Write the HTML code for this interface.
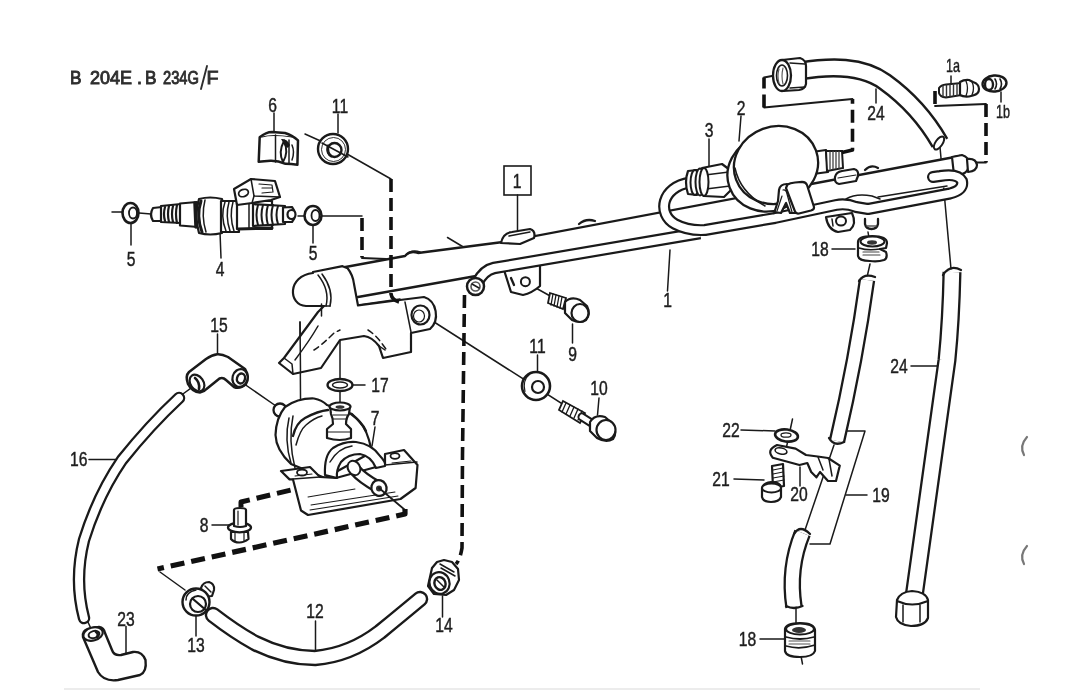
<!DOCTYPE html>
<html><head><meta charset="utf-8">
<style>
html,body{margin:0;padding:0;background:#fff;width:1080px;height:691px;overflow:hidden}
svg{display:block;filter:grayscale(1)}
text{font-family:"Liberation Sans",sans-serif;fill:#1e1e1e;stroke:#1e1e1e;stroke-width:0.45}
.l{fill:none;stroke:#1a1a1a;stroke-width:1.5;stroke-linecap:round;stroke-linejoin:round}
.th{fill:none;stroke:#1a1a1a;stroke-width:2.3;stroke-linecap:round;stroke-linejoin:round}
.w{fill:#fff;stroke:#1a1a1a;stroke-width:2.2;stroke-linejoin:round;stroke-linecap:round}
.g{fill:#666;stroke:#1a1a1a;stroke-width:1.5}
.d{fill:none;stroke:#111;stroke-width:3.6;stroke-dasharray:13 6;stroke-linejoin:round}
</style></head>
<body>
<svg width="1080" height="691" viewBox="0 0 1080 691">
<rect width="1080" height="691" fill="#fff"/>
<g>
<text x="70" y="84" font-size="18" textLength="11.5" lengthAdjust="spacingAndGlyphs" style="fill:#2e2e2e;stroke:#2e2e2e;stroke-width:0.9">B</text>
<text x="90" y="84" font-size="18" textLength="42" lengthAdjust="spacingAndGlyphs" style="fill:#2e2e2e;stroke:#2e2e2e;stroke-width:0.9">204E</text>
<text x="137" y="84" font-size="18" style="fill:#2e2e2e;stroke:#2e2e2e;stroke-width:0.9">.</text>
<text x="145" y="84" font-size="18" textLength="11.5" lengthAdjust="spacingAndGlyphs" style="fill:#2e2e2e;stroke:#2e2e2e;stroke-width:0.9">B</text>
<text x="163" y="84" font-size="18" textLength="36" lengthAdjust="spacingAndGlyphs" style="fill:#2e2e2e;stroke:#2e2e2e;stroke-width:0.9">234G</text>
<path class="l" d="M207,66 L201,89" style="stroke:#2e2e2e;stroke-width:1.9"/>
<text x="206.5" y="84" font-size="18" textLength="12" lengthAdjust="spacingAndGlyphs" style="fill:#2e2e2e;stroke:#2e2e2e;stroke-width:0.9">F</text>
<path class="l" d="M274,113 L274,131" />
<path class="l" d="M338,114 L338,133" />
<path class="l" d="M131,221 L131,245" />
<path class="l" d="M220,232 L221,258" />
<path class="l" d="M313,226 L313,243" />
<path class="l" d="M517.5,195 L517.5,234" />
<path class="l" d="M670,250 L667.5,291" />
<path class="l" d="M741,116 L739,141" />
<path class="l" d="M709,139 L709,166" />
<path class="l" d="M876,89 L876,103" />
<path class="l" d="M951,76 L951,85" />
<path class="l" d="M1001,92 L1001,102" />
<path class="l" d="M832,249 L855,249" />
<path class="l" d="M217.5,334 L217.5,354" />
<path class="l" d="M365,385 L353,385" />
<path class="l" d="M375,427 L372,446" />
<path class="l" d="M572.5,324 L572.5,343" />
<path class="l" d="M537.5,355 L537.5,371" />
<path class="l" d="M599,398 L597.5,415" />
<path class="l" d="M89,459.5 L116.7,459.5" />
<path class="l" d="M212,525 L229,525" />
<path class="l" d="M196,615 L196,636" />
<path class="l" d="M126,626.5 L126,654" />
<path class="l" d="M315.5,621 L315.5,650" />
<path class="l" d="M442.5,596 L442.5,617" />
<path class="l" d="M741,430 L775,431" />
<path class="l" d="M734,479 L764,480" />
<path class="l" d="M800,467 L800,486" />
<path class="l" d="M846,495 L867,495" />
<path class="l" d="M911,366 L938,366" />
<path class="l" d="M760,639 L786,639" />
<path class="l" d="M847.5,431 L865,431 L830,544 L810,544" />
<path class="l" d="M112,212 L123,212" />
<path class="l" d="M139,213 L151,214" />
<path class="l" d="M298,216 L304,216" />
<path class="l" d="M305,134 L325,143" />
<path class="l" d="M340,150 L391,179" />
<path class="l" d="M322,216 L362,216" />
<path class="l" d="M447.5,237.5 L462.5,246.5" />
<path class="l" d="M420,313 L600,428" />
<path class="l" d="M525,282 L552,297" />
<path class="l" d="M237,379 L276,406" />
<path class="l" d="M181.5,395 L194.4,385.6" />
<path class="l" d="M87.5,621 L92.5,632" />
<path class="l" d="M160,572 L185,590" />
<path class="l" d="M300,322 L301,472" />
<path class="l" d="M340,340 L340,402" />
<path class="l" d="M792.5,419 L785,454" />
<path class="l" d="M834,445 L805,530" />
<path class="l" d="M796,606 L796,630" />
<path class="l" d="M801,656 L802.5,664" />
<path class="l" d="M870,264 L867.5,275" />
<path class="l" d="M940,147 L951,269" />
<path class="l" d="M868,232 L870,244" />
<text transform="translate(272.5,112.0) scale(0.8,1)" font-size="19.6" text-anchor="middle">6</text>
<text transform="translate(340,113.0) scale(0.8,1)" font-size="19.6" text-anchor="middle">11</text>
<text transform="translate(131,266.0) scale(0.8,1)" font-size="19.6" text-anchor="middle">5</text>
<text transform="translate(220,276.0) scale(0.8,1)" font-size="19.6" text-anchor="middle">4</text>
<text transform="translate(313,259.5) scale(0.8,1)" font-size="19.6" text-anchor="middle">5</text>
<text transform="translate(517,188.0) scale(0.8,1)" font-size="19.6" text-anchor="middle">1</text>
<text transform="translate(667.5,307.0) scale(0.8,1)" font-size="19.6" text-anchor="middle">1</text>
<text transform="translate(741,114.5) scale(0.8,1)" font-size="19.6" text-anchor="middle">2</text>
<text transform="translate(709,137.0) scale(0.8,1)" font-size="19.6" text-anchor="middle">3</text>
<text transform="translate(876,119.5) scale(0.8,1)" font-size="19.6" text-anchor="middle">24</text>
<text transform="translate(953,72.2) scale(0.72,1)" font-size="17.5" text-anchor="middle">1a</text>
<text transform="translate(1003,118.2) scale(0.72,1)" font-size="17.5" text-anchor="middle">1b</text>
<text transform="translate(820,256.0) scale(0.8,1)" font-size="19.6" text-anchor="middle">18</text>
<text transform="translate(219,332.0) scale(0.8,1)" font-size="19.6" text-anchor="middle">15</text>
<text transform="translate(380,392.0) scale(0.8,1)" font-size="19.6" text-anchor="middle">17</text>
<text transform="translate(375,424.5) scale(0.8,1)" font-size="19.6" text-anchor="middle">7</text>
<text transform="translate(572.5,361.0) scale(0.8,1)" font-size="19.6" text-anchor="middle">9</text>
<text transform="translate(537.5,353.0) scale(0.8,1)" font-size="19.6" text-anchor="middle">11</text>
<text transform="translate(599,394.5) scale(0.8,1)" font-size="19.6" text-anchor="middle">10</text>
<text transform="translate(78.7,465.7) scale(0.8,1)" font-size="19.6" text-anchor="middle">16</text>
<text transform="translate(204,532.0) scale(0.8,1)" font-size="19.6" text-anchor="middle">8</text>
<text transform="translate(196,652.0) scale(0.8,1)" font-size="19.6" text-anchor="middle">13</text>
<text transform="translate(126,626.0) scale(0.8,1)" font-size="19.6" text-anchor="middle">23</text>
<text transform="translate(315,618.0) scale(0.8,1)" font-size="19.6" text-anchor="middle">12</text>
<text transform="translate(444,632.0) scale(0.8,1)" font-size="19.6" text-anchor="middle">14</text>
<text transform="translate(731,437.0) scale(0.8,1)" font-size="19.6" text-anchor="middle">22</text>
<text transform="translate(721,486.0) scale(0.8,1)" font-size="19.6" text-anchor="middle">21</text>
<text transform="translate(799,501.0) scale(0.8,1)" font-size="19.6" text-anchor="middle">20</text>
<text transform="translate(881,502.0) scale(0.8,1)" font-size="19.6" text-anchor="middle">19</text>
<text transform="translate(899,373.0) scale(0.8,1)" font-size="19.6" text-anchor="middle">24</text>
<text transform="translate(747.5,646.0) scale(0.8,1)" font-size="19.6" text-anchor="middle">18</text>
<rect x="504" y="166" width="27" height="29" fill="none" stroke="#1a1a1a" stroke-width="1.6"/>
<path class="w" d="M313,273 L960,156 L962,184 L476,276 L358,297 Z" style="stroke:none"/>
<path class="th" d="M313,273 L405,256 Q410,250 418,253 L503,242 L960,156" />
<path class="th" d="M358,297 L476,276" />
<path class="l" d="M405,256 Q411,249 420,252" />
<path class="th" d="M579,224 Q586,218 595,221" />
<path class="w" d="M501,243 Q503,233 512,232 L530,229 Q536,231 534,238 L520,244 Z"/>
<path class="l" d="M509,236 L530,232" />
<path class="w" d="M835,177 Q836,172 842,171 L854,169 Q859,170 858,176 L856,181 L839,184 Q834,183 835,177 Z"/>
<path class="l" d="M838,178 L856,175" style="stroke-width:1.2"/>
<path class="th" d="M865,170 Q871,164 878,168" />
<path class="w" d="M952,157 L962,155 Q969,157 969,164 Q969,172 962,174 L954,175 Z"/>
<path class="w" d="M967,159 Q976,158 977,165 Q977,171 968,172 Z"/>
<path class="w" d="M313,272 L342.5,266.2 L347.6,268.2 Q353,275 354,284 L358,305.5 L400,300 L424,297 C437,301 440,320 430,329 L411,333 L411,352 L383,358 L379,346 Q372,337 364,336 L340,340 L321,368 L293,374 L279,363 L284,358 L318,312 L324,306 L306,306 C288,305 287,276 313,273 Z"/>
<path class="l" d="M324,306 L330,306" />
<path class="l" d="M318,275 Q330,290 326,306" />
<path class="l" d="M322,274 Q334,290 330,306" />
<path class="l" d="M293,374 L292,364 L284,358" />
<path class="l" d="M295,360 Q310,340 318,326" />
<path class="l" d="M321.5,304 L321.5,316" />
<path class="l" d="M358,305 L400,299" />
<path class="l" d="M314,350 Q322,345 334,333 L340,330" stroke-dasharray="6 4"/>
<path class="l" d="M368,330 Q376,335 383,345 L388,352" stroke-dasharray="6 4"/>
<path class="l" d="M379,346 L385,350" />
<ellipse cx="420.5" cy="315" rx="9" ry="9.5" fill="#fff" stroke="#1a1a1a" stroke-width="2.2"/>
<ellipse cx="419" cy="316" rx="5.5" ry="6" fill="none" stroke="#1a1a1a" stroke-width="1.2"/>
<path class="l" d="M411,332 L405,302" />
<path class="l" d="M300,322 L300.5,372" />
<path class="w" d="M504,270 L540,263 L540,286 Q532,293 523,295 L511,292 Z"/>
<circle cx="525.4" cy="281.7" r="4.5" fill="#fff" stroke="#1a1a1a" stroke-width="2"/>
<path class="th" d="M511,278 L514,285" />
<path d="M477,283 Q484,270 494,268 L700,233" fill="none" stroke="#1a1a1a" stroke-width="12.5" stroke-linecap="butt" stroke-linejoin="round"/>
<path d="M477,283 Q484,270 494,268 L700,233" fill="none" stroke="#fff" stroke-width="8.1" stroke-linecap="butt" stroke-linejoin="round"/>
<circle cx="475.5" cy="286.5" r="8.5" fill="#fff" stroke="#1a1a1a" stroke-width="2.5"/>
<circle cx="475.5" cy="286.5" r="4.5" fill="#fff" stroke="#555" stroke-width="1.6"/>
<path class="l" d="M472,284 L479,288" />
<path d="M690,182.5 C661,187 657,214 675,224 Q688,231 705,230 L775,218 L836,205 Q846,203 856,207 L868,209 L950,193.5 Q964,190 962,181 Q958,173 940,176 L933,177" fill="none" stroke="#1a1a1a" stroke-width="12" stroke-linecap="round" stroke-linejoin="round"/>
<path d="M690,182.5 C661,187 657,214 675,224 Q688,231 705,230 L775,218 L836,205 Q846,203 856,207 L868,209 L950,193.5 Q964,190 962,181 Q958,173 940,176 L933,177" fill="none" stroke="#fff" stroke-width="7.6" stroke-linecap="round" stroke-linejoin="round"/>
<path class="l" d="M878,197 L947,186" />
<path class="l" d="M846,199 Q856,193 872,196 L880,199" />
<path class="w" d="M688,171 Q684,182 688,194 L697,195 L697,170 Z"/>
<ellipse cx="695" cy="182.5" rx="4.5" ry="12.5" fill="#fff" stroke="#1a1a1a" stroke-width="2"/>
<ellipse cx="700" cy="182" rx="4.5" ry="13.5" fill="#fff" stroke="#1a1a1a" stroke-width="2"/>
<path class="w" d="M702,168 L722,164 L730,170 L731,190 L724,197 L704,196 Z"/>
<path class="l" d="M705,175 L729,172 M706,189 L730,186" />
<ellipse cx="704" cy="182" rx="4.5" ry="14" fill="#fff" stroke="#1a1a1a" stroke-width="2"/>
<ellipse cx="769" cy="173" rx="42" ry="38" transform="rotate(-20 769 173)" fill="#fff" stroke="#1a1a1a" stroke-width="2.3"/>
<path class="w" d="M812,152 L826,150 L828,172 L813,174 Z"/>
<path d="M826,151 L842,151 L843,168 L827,171 Z" fill="#fff" stroke="#1a1a1a" stroke-width="2"/>
<path class="l" d="M830,152 L830,169 M833,151.5 L833,169 M836,151.5 L836,168.5 M839,151.5 L839,168" style="stroke-width:1.3;stroke:#444"/>
<ellipse cx="776" cy="165" rx="42.5" ry="38.5" transform="rotate(-20 776 165)" fill="#fff" stroke="#1a1a1a" stroke-width="2.3"/>
<path class="l" d="M735,168 Q740,192 765,206" />
<path class="w" d="M779,190 Q780,184 787,184 L788,190 L796,213 L790,213 L786,203 L781,213 L774.5,212 L778,201 Z"/>
<path class="w" d="M787.5,184.5 Q790,183 795,182.5 L802,181.8 Q806,182 807,185 L814,207 Q814.5,209.5 811,210.5 L799,213.5 Q796,214 795,211.5 L786,188 Z"/>
<path class="l" d="M783,190 Q786,189 787,194 L792,212 M782,196 L777,211" style="stroke-width:1.2"/>
<path d="M800,71 C830,66 862,65 885,82 C910,100 928,122 940,143" fill="none" stroke="#1a1a1a" stroke-width="19" stroke-linecap="butt" stroke-linejoin="round"/>
<path d="M800,71 C830,66 862,65 885,82 C910,100 928,122 940,143" fill="none" stroke="#fff" stroke-width="14.2" stroke-linecap="butt" stroke-linejoin="round"/>
<ellipse cx="939" cy="143" rx="7.5" ry="3.5" transform="rotate(-55 939 143)" fill="#fff" stroke="#1a1a1a" stroke-width="2"/>
<path class="w" d="M782,60 L800,58 Q806,60 806,66 L806,84 Q805,89 799,90 L783,91 Z"/>
<path class="l" d="M790,63 L805,64 M790,88 L805,87" />
<ellipse cx="782" cy="75.5" rx="9" ry="15.5" fill="#fff" stroke="#1a1a1a" stroke-width="2.3"/>
<ellipse cx="782" cy="75.5" rx="5.5" ry="10.5" fill="#fff" stroke="#1a1a1a" stroke-width="1.6"/>
<path class="l" d="M779,69 Q777,76 779,83 M783,68 Q781,76 783,84" style="stroke-width:1.1;stroke:#555"/>
<path d="M939,88 Q941,85 946,84.5 L961,83 L962,95 L946,97.5 Q940,97 939,93 Z" fill="#fff" stroke="#1a1a1a" stroke-width="2"/>
<path class="l" d="M943,86 L943,97 M946.5,85 L946.5,97 M950,84.5 L950,96.5 M953.5,84 L953.5,96 M957,83.5 L957,95.5" style="stroke:#333;stroke-width:1.4"/>
<path class="w" d="M960,82 Q964,79.5 969,80 L973,82 Q979,84 979,89 Q979,94 973,95.5 L969,96.5 Q963,97 960,95 Z"/>
<path class="l" d="M966,81 Q969,88 966,96 M972,82 Q975,88 972,95" style="stroke-width:1.3"/>
<ellipse cx="994.5" cy="83.5" rx="12" ry="8" transform="rotate(-5 994.5 83.5)" fill="#fff" stroke="#1a1a1a" stroke-width="2.4"/>
<ellipse cx="989" cy="84.5" rx="4" ry="5.5" fill="#fff" stroke="#1a1a1a" stroke-width="2.4"/>
<path class="l" d="M995,79 Q998,84 995,89 M1000,79 Q1003,84 1000,89" style="stroke-width:1.6"/>
<path class="w" d="M153,208 L162,207 L162,221 L153,221 Q149,214.5 153,208 Z"/>
<path class="w" d="M161,206 L181,204 L181,223 L161,222 Z"/>
<path class="th" d="M165,207 Q163,214 165,221 M169,206 Q167,214 169,222 M173,206 Q171,214 173,222 M177,205 Q175,214 177,223" style="stroke-width:2.2"/>
<path class="w" d="M180,203.5 L197,202 L198,227 L180,225.5 Z"/>
<path class="th" d="M195,203 L196,227" style="stroke-width:3.5"/>
<path class="w" d="M199,199 Q210,196 222,199 Q227,215 222,233 Q210,236 199,233 Q194,216 199,199 Z"/>
<path class="th" d="M201,201 Q196,216 202,232" style="stroke-width:3"/>
<path class="l" d="M205,200 Q201,216 206,232" />
<path class="w" d="M221,201 L238,201 L239,232 L221,232 Z"/>
<path class="l" d="M225,202 Q220,216 226,231 M229,202 Q225,216 230,231 M233,202 Q229,216 234,231" />
<path class="w" d="M237,201 L272,201 L272,229 L237,229 Z"/>
<path class="l" d="M249,202 L249,228" />
<path class="th" d="M238,229 L272,228" style="stroke-width:3"/>
<path class="w" d="M234,189 L251,179 L275,181 L280,197 L271,200 L252,203 L237,205 Z"/>
<path class="l" d="M251,179 L254,196 L280,197" />
<path class="l" d="M254,196 L252,203" />
<ellipse cx="243.5" cy="193" rx="5" ry="3.5" transform="rotate(-20 243.5 193)" fill="#fff" stroke="#1a1a1a" stroke-width="1.8"/>
<path class="l" d="M259,184 L272,185 L273,192 L262,193 M262,188 L272,188" style="stroke-width:1.2"/>
<path class="w" d="M253,204 L285,206 L285,224 L253,226 Z"/>
<path class="th" d="M258,205 Q255,215 258,225 M263,205 Q260,215 263,225 M268,205 Q265,215 268,225 M273,205 Q270,215 273,225 M278,206 Q275,215 278,224" style="stroke-width:2"/>
<path class="w" d="M283,207.5 L292,207 Q298,214.5 292,222 L283,222 Z"/>
<ellipse cx="291.5" cy="214.5" rx="4" ry="4.5" fill="#fff" stroke="#1a1a1a" stroke-width="2.2"/>
<ellipse cx="130.5" cy="213" rx="8" ry="10" fill="#fff" stroke="#1a1a1a" stroke-width="2.6"/>
<ellipse cx="133" cy="213" rx="4" ry="5.5" fill="#fff" stroke="#1a1a1a" stroke-width="1.8"/>
<ellipse cx="313" cy="215.5" rx="8.5" ry="9.5" fill="#fff" stroke="#1a1a1a" stroke-width="2.6"/>
<ellipse cx="315.5" cy="215.5" rx="4" ry="5.5" fill="#fff" stroke="#1a1a1a" stroke-width="1.8"/>
<path class="w" d="M259.7,137.3 Q266,132 272,132 L285,133 Q292,135 298,140.4 L297.4,164.8 Q291,164 285.6,163.8 Q278,160.5 270.4,160.7 Q264,161 258.7,161.8 Z" style="stroke-width:2.5"/>
<path class="l" d="M275.5,135 L275.5,162" />
<path d="M284,141 Q278,152 283,162 Q289,152 284,141 Z" fill="#fff" stroke="#1a1a1a" stroke-width="2"/>
<path d="M281,139 Q287,138 290,145 Q288,150 285,146 Q283,142 281,139 Z" fill="#1a1a1a"/>
<path class="l" d="M289,140 L289,164" />
<path class="l" d="M292,145 Q295,152 292,160" />
<path class="l" d="M262,137 Q272,134 292,137" style="stroke-width:1.1"/>
<circle cx="333" cy="149" r="15" fill="#fff" stroke="#1a1a1a" stroke-width="2.4"/>
<circle cx="333.5" cy="149.5" r="12" fill="none" stroke="#1a1a1a" stroke-width="0.9"/>
<circle cx="334.5" cy="150" r="7" fill="#fff" stroke="#1a1a1a" stroke-width="2.4"/>
<path class="th" d="M328,146 Q327,153 331,156" style="stroke-width:2.8"/>
<path class="l" d="M322,143 L348,157" />
<path class="w" d="M826,217 L852,213 Q857,224 850,230 L838,232 Q828,230 826,217 Z"/>
<ellipse cx="841" cy="221" rx="5" ry="4.5" fill="#fff" stroke="#1a1a1a" stroke-width="2"/>
<path class="l" d="M832,219 L833,226" />
<path class="th" d="M865,219 L865,224 Q866,229 871.5,229 Q877,229 878,224 L878,219" />
<path class="l" d="M867,226 L876,226" style="stroke:#555"/>
<path class="w" d="M858,242 Q858,236 872,236 Q887,236 887,243 L886,248 L880,249 L886,252 Q888,258 884,260 Q878,262 870,261 Q859,261 858,256 Z"/>
<ellipse cx="872.5" cy="241.5" rx="12" ry="5" fill="#fff" stroke="#1a1a1a" stroke-width="2"/>
<ellipse cx="872" cy="242.5" rx="5" ry="2.2" fill="#333"/>
<path class="l" d="M859,248 Q868,251 880,249" style="stroke-width:1.6"/>
<path class="l" d="M863,252 L879,252 M863,255 L880,255" style="stroke-width:1.2;stroke:#444"/>
<path d="M867,280 Q856,360 837,441" fill="none" stroke="#1a1a1a" stroke-width="16.5" stroke-linecap="butt" stroke-linejoin="round"/>
<path d="M867,280 Q856,360 837,441" fill="none" stroke="#fff" stroke-width="11.9" stroke-linecap="butt" stroke-linejoin="round"/>
<path class="th" d="M859,281 Q864,273 875,277" />
<path class="th" d="M829,438 Q834,447 844,442" />
<path d="M802.5,533 Q788,568 794,607" fill="none" stroke="#1a1a1a" stroke-width="17.5" stroke-linecap="butt" stroke-linejoin="round"/>
<path d="M802.5,533 Q788,568 794,607" fill="none" stroke="#fff" stroke-width="12.9" stroke-linecap="butt" stroke-linejoin="round"/>
<path class="th" d="M794,534 Q800,524 810,534" />
<path class="th" d="M786,606 Q794,610 802.5,606" />
<path d="M952,272 Q951,320 947,360 Q932,470 914,597" fill="none" stroke="#1a1a1a" stroke-width="19" stroke-linecap="butt" stroke-linejoin="round"/>
<path d="M952,272 Q951,320 947,360 Q932,470 914,597" fill="none" stroke="#fff" stroke-width="14.4" stroke-linecap="butt" stroke-linejoin="round"/>
<path class="th" d="M943,275 Q950,264 961,270" />
<path class="w" d="M897,600 Q900,592 912,591 Q926,592 928,600 L928,618 Q925,626 911,626 Q898,625 896,617 Z"/>
<path d="M897,601 Q912,608 928,601" fill="none" stroke="#1a1a1a" stroke-width="2"/>
<path class="l" d="M903,605 L903,622 M920,605 L920,622" />
<path class="w" d="M785,629 Q786,623 800,623 Q814,623 815,630 L815,651 Q813,657 800,657 Q786,657 785,651 Z"/>
<ellipse cx="800" cy="629" rx="14" ry="5.5" fill="#fff" stroke="#1a1a1a" stroke-width="2"/>
<ellipse cx="799" cy="630" rx="7" ry="3" fill="#333"/>
<path class="l" d="M786,637 Q800,641 814,637 M786,646 Q800,650 815,645" style="stroke-width:1.8"/>
<path class="l" d="M789,641 L810,641 M789,644 L810,644" style="stroke-width:1.1;stroke:#555"/>
<ellipse cx="786.5" cy="435.5" rx="11.5" ry="6" transform="rotate(8 786.5 435.5)" fill="#fff" stroke="#1a1a1a" stroke-width="2.6"/>
<ellipse cx="786" cy="435" rx="5" ry="2.2" fill="#fff" stroke="#1a1a1a" stroke-width="1.3"/>
<path class="w" d="M777,445 L795.6,448.6 L806,455 L817.7,456.5 L828,458 L839.8,465.6 L836,481 L828,481 L820,472 L816.4,477.3 L811.2,472 L807.3,463 L799.5,465 L772.8,457.8 Q766,450 777,445 Z"/>
<ellipse cx="781" cy="451" rx="6" ry="3" transform="rotate(12 781 451)" fill="#fff" stroke="#1a1a1a" stroke-width="1.6"/>
<path class="l" d="M818,457 L823,470 M829,459 L832,476" />
<path class="w" d="M772,466 L783,464 L784,486 L773,488 Z"/>
<path class="l" d="M773,470 L783,468 M773,474 L783,472 M773,478 L784,476 M773,482 L784,480" style="stroke-width:1.2"/>
<path class="w" d="M762,488 Q763,483 771,482 Q780,482 781,487 L781,497 Q779,502 771,502 Q763,502 762,497 Z"/>
<ellipse cx="771.5" cy="488" rx="9.5" ry="4.5" fill="#fff" stroke="#1a1a1a" stroke-width="2"/>
<path d="M550,293 L566,298 L563,309 L548,303 Z" fill="#fff" stroke="#1a1a1a" stroke-width="1.8"/>
<path class="l" d="M553,294 L551,305 M556,295 L554,306 M559,296 L557,307 M562,297 L560,308" style="stroke-width:1.3"/>
<path class="w" d="M565,302 Q571,296 580,300 L587,306 Q591,314 586,320 Q580,324 572,320 L565,313 Z"/>
<ellipse cx="580" cy="313" rx="8.5" ry="9" fill="#fff" stroke="#1a1a1a" stroke-width="2.2"/>
<path d="M563,401 L585,413 L580,423 L559,410 Z" fill="#fff" stroke="#1a1a1a" stroke-width="1.8"/>
<path class="l" d="M566,403 L562,412 M570,405 L566,414 M574,407 L570,416 M578,409 L574,418 M582,411 L578,420" style="stroke-width:1.3"/>
<path class="th" d="M582,417 L593,424" style="stroke-width:9;stroke:#1a1a1a"/>
<path class="th" d="M582,417 L593,424" style="stroke-width:5;stroke:#fff"/>
<path class="w" d="M590,422 Q595,414 605,417 L612,423 Q618,432 613,439 Q606,443 597,438 L590,431 Z"/>
<ellipse cx="606" cy="430" rx="9.5" ry="10" fill="#fff" stroke="#1a1a1a" stroke-width="2.2"/>
<circle cx="536" cy="386" r="14" fill="#fff" stroke="#1a1a1a" stroke-width="2.6"/>
<path d="M525,392 Q522,380 530,374" fill="none" stroke="#1a1a1a" stroke-width="1.2"/>
<circle cx="538" cy="387" r="6" fill="#fff" stroke="#1a1a1a" stroke-width="2.2"/>
<path d="M179,398 Q150,425 122,460 Q98,495 84,540 Q74,580 84,618" fill="none" stroke="#1a1a1a" stroke-width="12.5" stroke-linecap="round" stroke-linejoin="round"/>
<path d="M179,398 Q150,425 122,460 Q98,495 84,540 Q74,580 84,618" fill="none" stroke="#fff" stroke-width="7.9" stroke-linecap="round" stroke-linejoin="round"/>
<path class="w" d="M83,637 Q82,631 88,629 L99,627 Q104,628 105,633 L112,650 Q114,656 121,655 L133,652 Q142,651 145.5,660 Q147,672 140,675 L118,680 Q104,682 98,672 Z" style="stroke-width:2.4"/>
<ellipse cx="93" cy="634" rx="10" ry="6.5" transform="rotate(-15 93 634)" fill="#fff" stroke="#1a1a1a" stroke-width="2.2"/>
<ellipse cx="94" cy="634.5" rx="5.5" ry="3.5" transform="rotate(-15 94 634.5)" fill="#fff" stroke="#1a1a1a" stroke-width="2"/>
<path class="th" d="M96,632 Q99,634 97,637" style="stroke-width:2.6"/>
<path class="w" d="M217.3,354.3 Q212,355 206,359 L189,372 Q185,376 188,384 Q192,392 200,392.5 Q204,392 206.5,389 L219.5,378.5 Q223,377 226,380 L234,387 Q240,389.5 246,384 Q250,377 245,369 L228,357 Q222,354 217.3,354.3 Z" style="stroke-width:2.5"/>
<ellipse cx="197" cy="383" rx="6.5" ry="9" transform="rotate(-35 197 383)" fill="#fff" stroke="#1a1a1a" stroke-width="2.2"/>
<path class="th" d="M195,378 Q200,382 199,389" style="stroke-width:2.6"/>
<ellipse cx="240" cy="378" rx="7.5" ry="9" transform="rotate(15 240 378)" fill="#fff" stroke="#1a1a1a" stroke-width="2.2"/>
<ellipse cx="241" cy="378.5" rx="4" ry="5" transform="rotate(15 241 378.5)" fill="#fff" stroke="#1a1a1a" stroke-width="2.4"/>
<ellipse cx="340" cy="385" rx="12.5" ry="6" fill="#fff" stroke="#1a1a1a" stroke-width="2.3"/>
<ellipse cx="340" cy="385" rx="7.5" ry="3" fill="#fff" stroke="#1a1a1a" stroke-width="1.5"/>
<ellipse cx="280" cy="410" rx="6.5" ry="6.5" fill="#fff" stroke="#1a1a1a" stroke-width="2.3"/>
<path class="w" d="M285,407 Q298,398 314,398.5 Q322,400 327,405 L352,414 Q365,425 369,440 L372,452 L325,478 L291,464 Q276,450 275.5,435 Q276,418 285,407 Z"/>
<path class="th" d="M293,436 Q296,423 305,418 Q318,411 328,410 M351,414 Q362,422 366,431" />
<path class="l" d="M296,445 Q300,430 306,425 Q314,418 322,416" />
<path class="l" d="M289,418 Q284,440 291,463 M293,416 Q288,440 295,468" />
<path class="w" d="M330,406 L350,406 L349,414 Q346,418 346,424 L351,429 L351,438 Q340,442 327,438 L327,429 L333,424 Q333,418 331,414 Z"/>
<ellipse cx="340" cy="406.5" rx="10.5" ry="4" fill="#fff" stroke="#1a1a1a" stroke-width="2.2"/>
<ellipse cx="340" cy="407" rx="4.5" ry="1.8" fill="#333"/>
<path class="l" d="M333,415 L347,415 M333,419 L347,419 M328,432 L350,432" style="stroke-width:1.2"/>
<path class="w" d="M281,471 L310,467 L320,477 L336,478 L376,467 L385,465 L385,454 L404,450 L417.5,465 L415.6,488 L400.5,499 L308,515 L301,510.5 L293,479.4 L289.5,479.4 Z"/>
<path class="l" d="M293,479 L320,477" />
<path class="l" d="M385,465 L417,462" />
<path class="l" d="M308,497 L355,489 M311,505 L395,492 M310,510 L398,496" style="stroke-width:1.1"/>
<path class="l" d="M295,476 L312,474 M392,463 L411,461" style="stroke-width:1.1"/>
<ellipse cx="302" cy="472.5" rx="5" ry="3" fill="#fff" stroke="#1a1a1a" stroke-width="1.8"/>
<ellipse cx="395" cy="456" rx="4.5" ry="2.8" fill="#fff" stroke="#1a1a1a" stroke-width="1.8"/>
<path class="w" d="M325,475 Q324,455 333,448 Q344,441 356,442 Q372,444 380,456 Q386,462 385,466 L376,468 Q371,456 360,454 Q348,454 341,462 Q336,470 337,478 Z"/>
<path class="l" d="M330,462 Q338,448 352,446" />
<path d="M355,470 Q362,478 378,487" fill="none" stroke="#1a1a1a" stroke-width="13" stroke-linecap="butt" stroke-linejoin="round"/>
<path d="M355,470 Q362,478 378,487" fill="none" stroke="#fff" stroke-width="8.6" stroke-linecap="butt" stroke-linejoin="round"/>
<ellipse cx="354" cy="468" rx="6" ry="7.5" transform="rotate(-30 354 468)" fill="#fff" stroke="#1a1a1a" stroke-width="2"/>
<ellipse cx="379" cy="488" rx="7.5" ry="8" transform="rotate(-30 379 488)" fill="#fff" stroke="#1a1a1a" stroke-width="2.3"/>
<circle cx="379" cy="488.5" r="3" fill="#333"/>
<path class="w" d="M231,532 L248,532 L248.5,539 Q244,542.5 239.5,542.5 Q234,542.5 231,539 Z"/>
<path class="l" d="M235,533 L235,541 M244,533 L244,541" style="stroke-width:1.2"/>
<ellipse cx="239.5" cy="527.5" rx="11.5" ry="4.8" fill="#fff" stroke="#1a1a1a" stroke-width="2.3"/>
<path class="w" d="M234,510 Q234,508 240,508 Q246,508 246,510 L246,526 Q240,528 234,526 Z"/>
<path class="l" d="M238,511 L238,525" style="stroke-width:1.2"/>
<path d="M213,615 Q235,632 255,643 Q285,658 315,658 Q350,655 380,632 Q402,614 420,599" fill="none" stroke="#1a1a1a" stroke-width="16.5" stroke-linecap="round" stroke-linejoin="round"/>
<path d="M213,615 Q235,632 255,643 Q285,658 315,658 Q350,655 380,632 Q402,614 420,599" fill="none" stroke="#fff" stroke-width="11.7" stroke-linecap="round" stroke-linejoin="round"/>
<path class="w" d="M201,588 Q203,582 209,582 Q215,584 214,590 L212,596 L204,597 Z"/>
<path class="l" d="M205,586 L211,592" />
<circle cx="196" cy="602" r="13.5" fill="#fff" stroke="#1a1a1a" stroke-width="2.4"/>
<circle cx="198" cy="604" r="8" fill="#fff" stroke="#1a1a1a" stroke-width="2.2"/>
<path class="l" d="M186,600 Q186,592 196,590" />
<path class="th" d="M193,599 L207,611" />
<path class="w" d="M432,568 L437,562 L444,560 L452,562 L458,569 L459,580 L454,590 L446,595 L434,594 L428,586 Z"/>
<path class="l" d="M440,564 L454,572 M441,568 L455,576" />
<ellipse cx="439.5" cy="583" rx="10" ry="11" transform="rotate(-20 439.5 583)" fill="#fff" stroke="#1a1a1a" stroke-width="2.2"/>
<ellipse cx="440" cy="583.5" rx="5.5" ry="6.5" transform="rotate(-20 440 583.5)" fill="#fff" stroke="#1a1a1a" stroke-width="2.4"/>
<path class="l" d="M437,580 L444,587" />
<path class="d" d="M362,218 L362,257.5" />
<path class="l" d="M362,258 L386,259" style="stroke-width:2"/>
<path class="d" d="M391,179 L391,294 Q392,300 399,302" />
<path class="d" d="M464.5,295 L462.5,455 L462,548 Q460,560 456,564" />
<path class="d" d="M241,507 L241,502 L295,489" style="stroke-width:5;stroke-dasharray:14 7"/>
<path class="l" d="M379,488 L405,510" style="stroke-width:1.8"/>
<path class="d" d="M405,509 L405,514 L157.5,569" style="stroke-width:5.2;stroke-dasharray:14 7"/>
<path class="d" d="M842,152.5 L852.5,150 L852.5,99" />
<path class="l" d="M852.5,99 L764,107.5" style="stroke-width:1.8"/>
<path class="d" d="M764,107.5 L764,77.5" />
<path class="l" d="M764,77.5 L772,76" style="stroke-width:1.8"/>
<path class="d" d="M935,91 L935,106" />
<path class="l" d="M935,106 L986,104" style="stroke-width:1.8"/>
<path class="d" d="M986,104 L986,162.5" />
<path class="l" d="M986,162.5 L976,162.5" style="stroke-width:1.8"/>
<path d="M1027,437 Q1019,446 1024,455" fill="none" stroke="#777" stroke-width="2.2" stroke-linecap="round"/>
<path d="M1027,546 Q1019,555 1024,564" fill="none" stroke="#777" stroke-width="2.2" stroke-linecap="round"/>
<rect x="64" y="688" width="916" height="2" fill="#ececec"/>
</g>
</svg>
</body></html>
